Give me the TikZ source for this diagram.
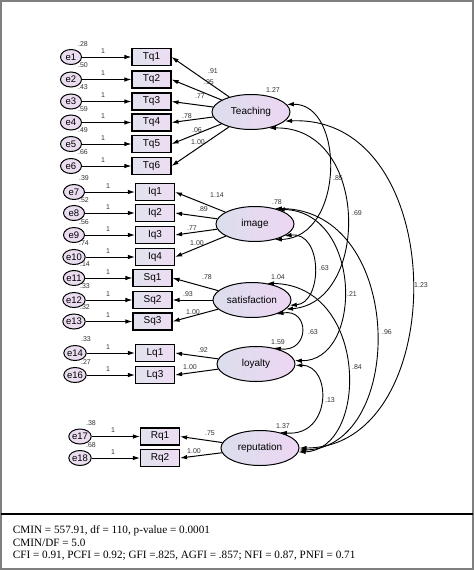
\documentclass[tikz,border=0pt]{standalone}
\usepackage{fontspec}
\setmainfont{Liberation Serif}
\newfontfamily\arialf{Liberation Sans}
\usetikzlibrary{shapes.geometric,arrows.meta}
\definecolor{latL}{HTML}{DCDEEC}
\definecolor{latR}{HTML}{EDD6F3}
\definecolor{obsL}{HTML}{E2E2EE}
\definecolor{obsR}{HTML}{EDDDF3}
\definecolor{errF}{HTML}{EBDDF0}
\definecolor{numc}{HTML}{333333}
\definecolor{frame}{HTML}{7F7F7F}
\tikzset{
  lat/.style={ellipse, draw, line width=1pt, minimum width=78pt, minimum height=35pt, inner sep=0pt,
    left color=latL, right color=latR, font=\arialf\fontsize{10}{11}\selectfont},
  obs/.style={rectangle, draw, line width=1.1pt, minimum width=39pt, minimum height=17pt, inner sep=0pt,
    left color=obsL, right color=obsR, font=\arialf\fontsize{10}{11}\selectfont},
  err/.style={ellipse, draw, line width=1pt, minimum width=21pt, minimum height=15pt, inner sep=0pt,
    fill=errF, font=\arialf\fontsize{9.5}{10}\selectfont},
  num/.style={font=\arialf\fontsize{7}{8}\selectfont, text=numc, inner sep=0pt},
  arr/.style={-{Latex[length=7pt,width=4.5pt]}, line width=1pt},
  cov/.style={{Latex[length=7pt,width=4.5pt]}-{Latex[length=7pt,width=4.5pt]}, line width=0.9pt},
  foot/.style={anchor=base west, inner sep=0pt, font=\fontsize{11.2}{12.5}\selectfont}
}
\begin{document}
\begin{tikzpicture}[x=1pt,y=-1pt]
\useasboundingbox (0,0) rectangle (474,570);
\fill[white] (0,0) rectangle (474,570);
\draw[frame, line width=2pt] (1,1) rectangle (473,569);
\draw[black, line width=2pt] (1,514) -- (473,514);

% latent variables
\node[lat] (T) at (251,112) {Teaching};
\node[lat] (I) at (255,224) {image};
\node[lat] (S) at (252,300) {satisfaction};
\node[lat] (L) at (256,364) {loyalty};
\node[lat] (R) at (260,448) {reputation};

% Teaching block
\foreach \i/\y/\v/\vy in {1/57/.28/44, 2/79.5/.50/65, 3/101.5/.43/87, 4/122.5/.59/109, 5/144/.49/130, 6/166/.66/152}{
  \node[err] (e\i) at (71,\y) {e\i};
  \node[obs] (Tq\i) at (151.5,\y) {Tq\i};
  \draw[arr] (e\i) -- (Tq\i);
  \node[num] (one\i) at (103,\y-6) {1};
  \node[num] (ev\i) at (83,\vy) {\v};
  \draw[arr] (T) -- (Tq\i.east);
}
% image block
\foreach \i/\n/\y/\v/\vy in {7/1/192/.39/178, 8/2/213/.52/200, 9/3/235/.56/222, 10/4/257/.74/243}{
  \node[err] (e\i) at (74,\y) {e\i};
  \node[obs] (Iq\n) at (155,\y) {Iq\n};
  \draw[arr] (e\i) -- (Iq\n);
  \node[num] (one\i) at (108,\y-6) {1};
  \node[num] (ev\i) at (84,\vy) {\v};
  \draw[arr] (I) -- (Iq\n.east);
}
% satisfaction block
\foreach \i/\n/\y/\v/\vy in {11/1/278/.14/264, 12/2/300/.33/286, 13/3/321.5/.32/307}{
  \node[err] (e\i) at (74,\y) {e\i};
  \node[obs] (Sq\n) at (152.5,\y) {Sq\n};
  \draw[arr] (e\i) -- (Sq\n);
  \node[num] (one\i) at (108,\y-6) {1};
  \node[num] (ev\i) at (85,\vy) {\v};
  \draw[arr] (S) -- (Sq\n.east);
}
% loyalty block
\foreach \i/\n/\y/\v/\vy in {14/1/353/.33/339, 16/3/375/.27/362}{
  \node[err] (e\i) at (75,\y) {e\i};
  \node[obs] (Lq\n) at (155,\y) {Lq\n};
  \draw[arr] (e\i) -- (Lq\n);
  \node[num] (one\i) at (108,\y-6) {1};
  \node[num] (ev\i) at (86,\vy) {\v};
  \draw[arr] (L) -- (Lq\n.east);
}
% reputation block
\foreach \i/\n/\y/\v/\vy in {17/1/436.5/.38/423, 18/2/458/.68/445}{
  \node[err] (e\i) at (80,\y) {e\i};
  \node[obs] (Rq\n) at (160,\y) {Rq\n};
  \draw[arr] (e\i) -- (Rq\n);
  \node[num] (one\i) at (113,\y-6) {1};
  \node[num] (ev\i) at (91,\vy) {\v};
  \draw[arr] (R) -- (Rq\n.east);
}

% loadings
\node[num] (lT1) at (213,71) {.91};
\node[num] (lT2) at (209,82) {.95};
\node[num] (lT3) at (200,96) {.77};
\node[num] (lT4) at (187,116) {.78};
\node[num] (lT5) at (197,130) {.06};
\node[num] (lT6) at (198,142) {1.00};
\node[num] (lI1) at (217,195) {1.14};
\node[num] (lI2) at (203,209) {.89};
\node[num] (lI3) at (192,228) {.77};
\node[num] (lI4) at (197,243) {1.00};
\node[num] (lS1) at (207,277) {.78};
\node[num] (lS2) at (188,294) {.93};
\node[num] (lS3) at (193,312) {1.00};
\node[num] (lL1) at (203,350) {.92};
\node[num] (lL3) at (190,367) {1.00};
\node[num] (lR1) at (210,433) {.75};
\node[num] (lR2) at (194,451) {1.00};

% latent variances
\node[num] (vT) at (273,90) {1.27};
\node[num] (vI) at (277,202) {.78};
\node[num] (vS) at (278,277) {1.04};
\node[num] (vL) at (278,342) {1.59};
\node[num] (vR) at (283,426) {1.37};

% covariances
\draw[cov] (T.12) .. controls (345,103) and (345,238) .. (I.-38);
\draw[cov] (T.-42) .. controls (370,126) and (370,303) .. (S.-15);
\draw[cov] (T.-15) .. controls (452,114) and (452,448) .. (R.0);
\draw[cov] (I.-22) .. controls (323,231) and (323,303) .. (S.-8);
\draw[cov] (I.33) .. controls (363,212) and (363,362) .. (L.5);
\draw[cov] (I.38) .. controls (406,210) and (406,448) .. (R.-3);
\draw[cov] (S.-30) .. controls (310,308) and (310,353) .. (L.42);
\draw[cov] (S.48) .. controls (369,285) and (369,450) .. (R.-6);
\draw[cov] (L.-2) .. controls (332,365) and (332,437) .. (R.38);

\node[num] (cTI) at (338,178) {.85};
\node[num] (cTS) at (357,213) {.69};
\node[num] (cTR) at (421,285) {1.23};
\node[num] (cIS) at (324,268) {.63};
\node[num] (cIL) at (352,294) {.21};
\node[num] (cIR) at (387,332) {.96};
\node[num] (cSL) at (313,332) {.63};
\node[num] (cSR) at (357,367) {.84};
\node[num] (cLR) at (330,400) {.13};

% fit indices
\node[foot] (f1) at (12.7,533.5) {CMIN = 557.91, df = 110, p-value = 0.0001};
\node[foot] (f2) at (12.7,546) {CMIN/DF = 5.0};
\node[foot] (f3) at (12.7,558.5) {CFI = 0.91, PCFI = 0.92; GFI =.825, AGFI = .857; NFI = 0.87, PNFI = 0.71};
\end{tikzpicture}
\end{document}
